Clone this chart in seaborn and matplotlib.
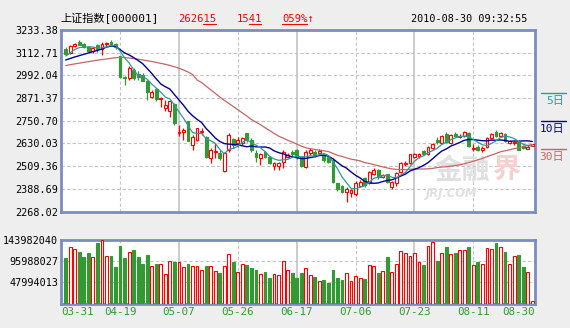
import numpy as np
import pandas as pd
import matplotlib
matplotlib.use("Agg")
import matplotlib.pyplot as plt
import seaborn as sns
from matplotlib.lines import Line2D
from matplotlib.patches import Rectangle

# ---------------- data ----------------
tick_idx = [0, 12, 25, 38, 51, 64, 77, 90, 103]
tick_labels = ["03-31", "04-19", "05-07", "05-26", "06-17", "07-06", "07-23", "08-11", "08-30"]

price_ticks = [2268.02, 2388.69, 2509.36, 2630.03, 2750.70, 2871.37, 2992.04, 3112.71, 3233.38]
vol_ticks = [47994013, 95988027, 143982040]

opens = [3132, 3111, 3150, 3169, 3159, 3143, 3123, 3152, 3134, 3161,
         3170, 3159, 3093, 2985, 2978, 3022, 3000, 2992, 2960, 2879,
         2920, 2866, 2818, 2804, 2840, 2686, 2691, 2747, 2623, 2650,
         2691, 2662, 2552, 2584, 2581, 2485, 2595, 2652, 2630, 2630,
         2684, 2648, 2581, 2551, 2586, 2556, 2510, 2510, 2533, 2556,
         2586, 2595, 2560, 2506, 2577, 2586, 2581, 2568, 2556, 2542,
         2418, 2404, 2373, 2365, 2359, 2404, 2445, 2420, 2468, 2488,
         2450, 2465, 2400, 2420, 2480, 2520, 2525, 2560, 2565, 2590,
         2575, 2605, 2650, 2630, 2680, 2630, 2680, 2665, 2670, 2685,
         2600, 2610, 2595, 2610, 2660, 2690, 2670, 2680, 2635, 2630,
         2640, 2615, 2600, 2618]
highs = [3141, 3152, 3162, 3180, 3162, 3146, 3143, 3159, 3170, 3170,
         3178, 3164, 3095, 2987, 3040, 3031, 3013, 3004, 2969, 2916,
         2925, 2875, 2863, 2863, 2845, 2730, 2712, 2751, 2677, 2712,
         2712, 2668, 2606, 2632, 2595, 2586, 2684, 2657, 2666, 2666,
         2687, 2657, 2595, 2577, 2590, 2563, 2533, 2533, 2595, 2577,
         2595, 2599, 2565, 2595, 2604, 2595, 2600, 2575, 2560, 2551,
         2421, 2409, 2396, 2390, 2430, 2436, 2450, 2485, 2500, 2492,
         2470, 2470, 2430, 2480, 2530, 2535, 2575, 2580, 2580, 2595,
         2615, 2630, 2665, 2675, 2690, 2680, 2690, 2680, 2695, 2690,
         2625, 2620, 2615, 2665, 2685, 2700, 2692, 2685, 2650, 2645,
         2645, 2620, 2620, 2628]
lows = [3102, 3107, 3143, 3152, 3138, 3116, 3111, 3116, 3102, 3147,
        3152, 3134, 2978, 2939, 2969, 2969, 2969, 2960, 2863, 2872,
        2857, 2822, 2801, 2769, 2730, 2668, 2650, 2641, 2597, 2645,
        2677, 2552, 2526, 2552, 2542, 2480, 2586, 2604, 2613, 2622,
        2639, 2586, 2533, 2515, 2551, 2521, 2489, 2489, 2498, 2551,
        2563, 2545, 2505, 2498, 2568, 2556, 2570, 2530, 2525, 2418,
        2379, 2365, 2320, 2345, 2350, 2398, 2400, 2415, 2460, 2440,
        2445, 2418, 2390, 2405, 2475, 2510, 2520, 2550, 2555, 2570,
        2570, 2600, 2625, 2625, 2630, 2625, 2665, 2660, 2665, 2610,
        2590, 2590, 2585, 2605, 2655, 2665, 2665, 2640, 2625, 2620,
        2595, 2600, 2598, 2615]
closes = [3107, 3146, 3159, 3155, 3141, 3120, 3138, 3134, 3159, 3166,
          3159, 3141, 2982, 2978, 3031, 2978, 2982, 2964, 2902, 2905,
          2868, 2872, 2836, 2854, 2739, 2691, 2703, 2645, 2662, 2712,
          2698, 2556, 2597, 2592, 2551, 2577, 2675, 2622, 2648, 2657,
          2648, 2595, 2560, 2574, 2556, 2524, 2524, 2524, 2586, 2568,
          2574, 2556, 2510, 2586, 2595, 2568, 2591, 2542, 2533, 2427,
          2386, 2373, 2386, 2382, 2418, 2427, 2410, 2478, 2490, 2450,
          2463, 2424, 2424, 2475, 2528, 2527, 2573, 2572, 2574, 2575,
          2609, 2627, 2636, 2672, 2639, 2677, 2672, 2672, 2689, 2616,
          2605, 2597, 2608, 2661, 2680, 2672, 2688, 2642, 2642, 2637,
          2597, 2608, 2611, 2626]
volumes_m = [102.8, 126.9, 122.4, 116.3, 105.0, 114.0, 105.0, 136.6, 143.3, 107.3,
             108.0, 82.6, 129.8, 102.8, 115.6, 120.8, 105.0, 89.3, 109.6, 84.8,
             89.3, 89.3, 66.8, 95.4, 93.8, 93.8, 82.6, 90.0, 84.8, 84.8,
             75.8, 84.8, 84.8, 73.6, 69.8, 84.8, 111.8, 93.8, 71.3, 89.3,
             87.8, 80.3, 75.8, 66.8, 71.3, 57.8, 66.8, 64.6, 95.4, 75.8,
             69.8, 57.8, 69.8, 80.3, 64.6, 60.1, 51.1, 53.3, 47.3, 75.8,
             57.8, 53.3, 69.0, 51.1, 62.3, 57.8, 55.6, 87.1, 84.8, 69.8,
             73.6, 105.1, 71.3, 89.3, 118.6, 114.1, 107.3, 114.1, 93.8, 87.8,
             129.8, 138.8, 96.1, 114.1, 127.6, 111.8, 114.1, 120.8, 120.8, 127.6,
             87.1, 93.8, 89.3, 125.3, 123.1, 136.6, 127.6, 116.3, 89.3, 107.3,
             109.6, 82.6, 71.3, 6.7]

# moving-average values before a full window is available
ma5_head = [3095, 3112, 3130, 3140]
ma10_head = [3074, 3082, 3090, 3097, 3104, 3111, 3118, 3125, 3132]
ma30_head = [3044, 3049, 3053, 3057, 3061, 3065, 3069, 3073, 3076, 3079,
             3083, 3086, 3088, 3087, 3084, 3082, 3078, 3074, 3070, 3066,
             3061, 3056, 3051, 3045, 3038, 3030, 3021, 3010, 2997]

# ---------------- styling ----------------
RED = "#FF0000"
GREEN = "#339933"
C5 = "#2E9A9A"
C10 = "#000099"
C30 = "#C86464"
BORDER = "#7B8CC2"
GRID = "#C4C4C4"
BG = "#EEEEEE"

sns.set_theme(style="white")
plt.rcParams["font.family"] = ["DejaVu Sans Mono", "Noto Sans CJK SC"]

W, H = 570, 328
fig = plt.figure(figsize=(W / 100, H / 100), dpi=100, facecolor=BG)


def fx(x):
    return x / W


def fy(y):
    return 1 - y / H


ax = fig.add_axes([fx(61), fy(211.5), fx(534.5) - fx(61), fy(30) - fy(211.5)])
axv = fig.add_axes([fx(61), fy(303.7), fx(534.5) - fx(61), fy(239.7) - fy(303.7)])

n = len(closes)
idx = np.arange(n)
df = pd.DataFrame({"i": idx, "open": opens, "high": highs, "low": lows,
                   "close": closes, "vol": np.array(volumes_m) * 1e6})
s = df["close"]
ma5 = s.rolling(5).mean().to_numpy()
ma5[:4] = ma5_head
ma10 = s.rolling(10).mean().to_numpy()
ma10[:9] = ma10_head
ma30 = s.rolling(30).mean().to_numpy()
ma30[:29] = ma30_head
df["ma5"], df["ma10"], df["ma30"] = ma5, ma10, ma30

up = df["close"] >= df["open"]
XL = (-1.04, 103.5)

for a in (ax, axv):
    a.set_facecolor("white")
    a.set_xlim(*XL)
    for sp in a.spines.values():
        sp.set_color(BORDER)
        sp.set_linewidth(2.0)
    a.tick_params(axis="both", length=0, pad=2, labelsize=7.3, colors="black")
    a.set_xticks([])
    for k, t in enumerate(tick_idx[1:-1]):
        if k % 2 == 1:
            a.axvline(t, color="#C8C8C8", lw=1.3, zorder=0.5)
        else:
            a.axvline(t, color=GRID, lw=0.8, ls=(0, (3, 2)), zorder=0.5)

# ---- main price panel ----
ax.set_ylim(price_ticks[0], price_ticks[-1])
ax.set_yticks(price_ticks)
ax.set_yticklabels([f"{v:.2f}" for v in price_ticks])
for v in price_ticks[1:-1]:
    ax.axhline(v, color=GRID, lw=0.8, ls=(0, (3, 2)), zorder=0.5)

# watermark
ax.text(fx(490), fy(171), "金融", transform=fig.transFigure, fontsize=20, fontweight="bold",
        color="#E0E0E0", ha="right", va="center", family="Noto Sans CJK SC", zorder=0.6)
ax.text(fx(492), fy(171), "界", transform=fig.transFigure, fontsize=20, fontweight="bold",
        color="#F6D0D0", ha="left", va="center", family="Noto Sans CJK SC", zorder=0.6)
ax.text(fx(452), fy(193), "JRJ.COM", transform=fig.transFigure, fontsize=8.3, fontweight="bold",
        style="italic", color="#E0E0E0", ha="center", va="center", family="DejaVu Sans", zorder=0.6)

bw = 0.62
for r in df.itertuples():
    col = RED if r.close >= r.open else GREEN
    ax.vlines(r.i, r.low, r.high, color=col, lw=0.9, zorder=2)
    lo, hi = min(r.open, r.close), max(r.open, r.close)
    h = max(hi - lo, 1.2)
    ax.add_patch(Rectangle((r.i - bw / 2, lo), bw, h,
                           facecolor="white" if r.close >= r.open else col,
                           edgecolor=col, lw=0.8, zorder=3))

sns.lineplot(data=df, x="i", y="ma30", ax=ax, color=C30, lw=0.9, zorder=4)
sns.lineplot(data=df, x="i", y="ma10", ax=ax, color=C10, lw=1.0, zorder=5)
sns.lineplot(data=df, x="i", y="ma5", ax=ax, color=C5, lw=0.9, zorder=6)
ax.set_xlabel("")
ax.set_ylabel("")
ax.set_xlim(*XL)
ax.set_ylim(price_ticks[0], price_ticks[-1])

# ---- volume panel ----
vmax = vol_ticks[-1]
axv.set_ylim(0, vmax)
axv.set_yticks(vol_ticks)
axv.set_yticklabels([str(v) for v in vol_ticks])
for v in vol_ticks[:-1]:
    axv.axhline(v, color=GRID, lw=0.8, ls=(0, (3, 2)), zorder=0.5)
axv.bar(df["i"], df["vol"], width=bw,
        color=["white" if u else GREEN for u in up],
        edgecolor=[RED if u else GREEN for u in up], linewidth=0.8, zorder=3)
axv.set_xlim(*XL)

for t, lab in zip(tick_idx, tick_labels):
    if t == tick_idx[0]:
        x, ha = XL[0], "left"
    elif t == tick_idx[-1]:
        x, ha = XL[1], "right"
    else:
        x, ha = t, "center"
    axv.text(x, -0.125, lab, transform=axv.get_xaxis_transform(), ha=ha, va="center",
             fontsize=7.8, color=GREEN)

# ---- header ----
fig.text(fx(60), fy(18.5), "上证指数[000001]", fontsize=8, va="center", ha="left", color="black")
hdr = [(178, "262615", 203, 216), (237, "1541", 249, 261), (282, "059%↑", 282, 307)]
for x0, txt, u0, u1 in hdr:
    fig.text(fx(x0), fy(18.5), txt, fontsize=7.6, va="center", ha="left", color=RED,
             family=["DejaVu Sans Mono", "DejaVu Sans"])
    fig.add_artist(Line2D([fx(u0), fx(u1)], [fy(24), fy(24)], color=RED, lw=0.8))
fig.text(fx(527), fy(19), "2010-08-30 09:32:55", fontsize=7.3, va="center", ha="right", color="black")

# ---- right legend ----
for yl, yt, lab, c in [(92.5, 101, "5日", C5), (120.5, 128.5, "10日", C10), (148.7, 157, "30日", C30)]:
    fig.add_artist(Line2D([fx(541), fx(566)], [fy(yl), fy(yl)], color=c, lw=1.0))
    fig.text(fx(564), fy(yt), lab, fontsize=8, va="center", ha="right", color=c)

fig.savefig("out.png", dpi=100, facecolor=BG)
